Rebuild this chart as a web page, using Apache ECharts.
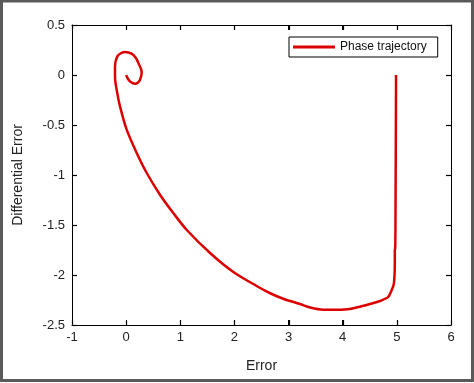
<!DOCTYPE html>
<html>
<head>
<meta charset="utf-8">
<script src="https://cdn.jsdelivr.net/npm/echarts@6/dist/echarts.min.js"></script>
<style>
html,body{margin:0;padding:0;background:#fff;}
#c{width:474px;height:383px;}
</style>
</head>
<body>
<div id="c"></div>
<script>
var seriesName = 'Phase trajectory';
var errorValues = [4.985, 4.982, 4.978, 4.975, 4.972, 4.968, 4.962, 4.962, 4.955, 4.94, 4.905, 4.84, 4.75, 4.69, 4.44, 4.13, 3.9, 3.64, 3.4, 3.21, 2.90, 2.65, 2.41, 1.98, 1.55, 1.12, 0.87, 0.625, 0.38, 0.195, 0.01, -0.113, -0.175, -0.205, -0.206, -0.163, -0.09, -0.021, 0.10, 0.18, 0.225, 0.275, 0.287, 0.256, 0.21, 0.164, 0.115, 0.071, 0.03, 0.0];
var diffErrorValues = [0.0, -0.5, -1.0, -1.4, -1.68, -1.74, -1.75, -1.9, -2.02, -2.1, -2.15, -2.22, -2.245, -2.26, -2.30, -2.34, -2.347, -2.347, -2.325, -2.29, -2.237, -2.18, -2.11, -1.97, -1.78, -1.55, -1.38, -1.197, -0.98, -0.78, -0.547, -0.314, -0.147, -0.03, 0.086, 0.186, 0.22, 0.23, 0.213, 0.17, 0.12, 0.06, 0.02, -0.047, -0.08, -0.087, -0.08, -0.064, -0.035, 0.0];
var xTickValues = [-1, 0, 1, 2, 3, 4, 5, 6];
var yTickValues = [-2.5, -2, -1.5, -1, -0.5, 0, 0.5];
var xTicks = {min: -1, max: 6, interval: 1};
var yTicks = {min: -2.5, max: 0.5, interval: 0.5};

var points = errorValues.map(function (x, i) { return [x, diffErrorValues[i]]; });
var fontFam = 'Liberation Sans, Arial, sans-serif';
var TL = 5;
var chart = echarts.init(document.getElementById('c'));
function lineStyle() { return {show: true, onZero: false, lineStyle: {color: '#000', width: 1}}; }
function tickStyle() { return {show: true, inside: true, length: TL, lineStyle: {color: '#000', width: 1}}; }
var borderRect = {
  type: 'rect', silent: true, z: 100,
  shape: {x: 1.5, y: 1, width: 471, height: 379.5},
  style: {fill: 'none', stroke: '#5a5a5a', lineWidth: 3}
};
chart.setOption({
  animation: false,
  backgroundColor: '#fff',
  grid: {left: 72, top: 25, width: 379, height: 300, show: false},
  legend: {
    left: 289, top: 37,
    data: [seriesName],
    icon: 'rect',
    itemWidth: 42, itemHeight: 3,
    itemGap: 5,
    padding: [4, 11, 4, 4],
    borderColor: '#000', borderWidth: 1, backgroundColor: '#fff',
    borderRadius: 0,
    textStyle: {fontSize: 12, color: '#111', fontFamily: fontFam}
  },
  xAxis: [{
    type: 'value', position: 'bottom', min: xTicks.min, max: xTicks.max, interval: xTicks.interval,
    name: 'Error', nameLocation: 'middle', nameGap: 34,
    nameTextStyle: {fontSize: 14, color: '#222', fontFamily: fontFam},
    axisLine: lineStyle(), axisTick: tickStyle(), splitLine: {show: false},
    axisLabel: {fontSize: 13, color: '#222', margin: 6, fontFamily: fontFam}
  }, {
    type: 'value', position: 'top', min: xTicks.min, max: xTicks.max, interval: xTicks.interval,
    axisLine: lineStyle(), axisTick: tickStyle(), splitLine: {show: false},
    axisLabel: {show: false}
  }],
  yAxis: [{
    type: 'value', position: 'left', min: yTicks.min, max: yTicks.max, interval: yTicks.interval,
    name: 'Differential Error', nameLocation: 'middle', nameGap: 47,
    nameTextStyle: {fontSize: 14, color: '#222', fontFamily: fontFam},
    axisLine: lineStyle(), axisTick: tickStyle(), splitLine: {show: false},
    axisLabel: {fontSize: 13, color: '#222', margin: 7, fontFamily: fontFam}
  }, {
    type: 'value', position: 'right', min: yTicks.min, max: yTicks.max, interval: yTicks.interval,
    axisLine: lineStyle(), axisTick: tickStyle(), splitLine: {show: false},
    axisLabel: {show: false}
  }],
  series: [{
    name: seriesName,
    type: 'line',
    data: points,
    xAxisIndex: 0, yAxisIndex: 0,
    symbol: 'none',
    smooth: 0.3,
    color: '#dd0000',
    lineStyle: {color: '#dd0000', width: 2.5}
  }],
  graphic: [borderRect]
});

// Extra tick marks on all four sides, positioned through the series' own coordinate system.
var g = [borderRect];
var st = {stroke: '#000', lineWidth: 1.2};
function px(v) { return chart.convertToPixel({seriesIndex: 0}, v); }
xTickValues.forEach(function (v) {
  var a = px([v, yTicks.min]);
  var b = px([v, yTicks.max]);
  if (!a || !b) { return; }
  var x = Math.round(a[0]) + 0.5;
  g.push({type: 'line', silent: true, z: 50, shape: {x1: x, y1: a[1], x2: x, y2: a[1] - TL}, style: st});
  g.push({type: 'line', silent: true, z: 50, shape: {x1: x, y1: b[1], x2: x, y2: b[1] + TL}, style: st});
});
yTickValues.forEach(function (v) {
  var a = px([xTicks.min, v]);
  var b = px([xTicks.max, v]);
  if (!a || !b) { return; }
  var y = Math.round(a[1]) + 0.5;
  g.push({type: 'line', silent: true, z: 50, shape: {x1: a[0], y1: y, x2: a[0] + TL, y2: y}, style: st});
  g.push({type: 'line', silent: true, z: 50, shape: {x1: b[0], y1: y, x2: b[0] - TL, y2: y}, style: st});
});
chart.setOption({graphic: g});
</script>
</body>
</html>
